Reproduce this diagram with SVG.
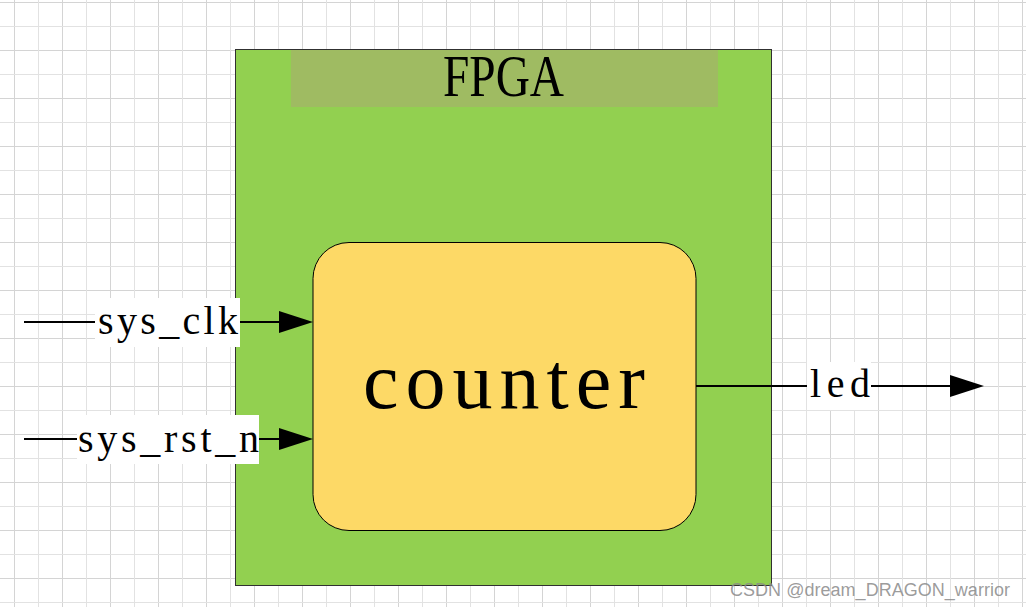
<svg xmlns="http://www.w3.org/2000/svg" width="1026" height="607" viewBox="0 0 1026 607">
  <defs>
    <pattern id="grid" x="14" y="2" width="48" height="48" patternUnits="userSpaceOnUse">
      <path d="M0 0.5H48M0 24.5H48" stroke="#d4d4d4" stroke-width="1" fill="none"/>
      <path d="M0.5 0V48M24.5 0V48" stroke="#d4d4d4" stroke-width="1" fill="none"/>
      <path d="M0 24.5H48M24.5 0V48" stroke="#e2e2e2" stroke-width="1" fill="none"/>
    </pattern>
    <marker id="arrow" markerUnits="userSpaceOnUse" markerWidth="34" markerHeight="22" refX="21" refY="11" orient="auto">
      <path d="M0 0L34 11L0 22Z" fill="#000"/>
    </marker>
    <style>
      .lbl { font-family: "Liberation Serif", "DejaVu Serif", serif; fill: #000; }
      .lblbg { fill: #ffffff; }
      .wire { stroke: #000; stroke-width: 2.2; fill: none; marker-end: url(#arrow); }
    </style>
  </defs>
  <rect width="1026" height="607" fill="#ffffff"/>
  <rect width="1026" height="607" fill="url(#grid)"/>

  <g id="fpga">
    <rect x="235.5" y="49.5" width="536" height="536" fill="#92d050" stroke="#303030" stroke-width="1"/>
    <rect x="291" y="50" width="427" height="57" fill="#9fbb62"/>
    <text class="lbl" x="443" y="96" font-size="60" textLength="121" lengthAdjust="spacingAndGlyphs">FPGA</text>
  </g>

  <g id="counter">
    <rect x="313" y="242.5" width="383" height="288" rx="36" ry="36" fill="#fdd966" stroke="#000" stroke-width="1"/>
    <text class="lbl" x="363" y="408" font-size="80" textLength="282" lengthAdjust="spacing">counter</text>
  </g>

  <g id="connectors">
    <path class="wire" d="M24 322H300"/>
    <path class="wire" d="M24 439H300"/>
    <path class="wire" d="M696 386H971"/>
    <g id="label-sys_clk">
      <rect class="lblbg" x="95" y="298" width="145" height="49"/>
      <text class="lbl" x="98" y="334" font-size="40" textLength="140" lengthAdjust="spacing">sys_clk</text>
    </g>
    <g id="label-sys_rst_n">
      <rect class="lblbg" x="77" y="415" width="182" height="49"/>
      <text class="lbl" x="78" y="452" font-size="40" textLength="181" lengthAdjust="spacing">sys_rst_n</text>
    </g>
    <g id="label-led">
      <rect class="lblbg" x="807" y="362" width="64" height="48"/>
      <text class="lbl" x="810" y="397" font-size="40" textLength="60" lengthAdjust="spacing">led</text>
    </g>
  </g>

  <text x="730" y="596" font-family="Liberation Sans, Arial, sans-serif" font-size="18" fill="#8a8a8a" fill-opacity="0.85" textLength="280" lengthAdjust="spacing">CSDN @dream_DRAGON_warrior</text>
</svg>
